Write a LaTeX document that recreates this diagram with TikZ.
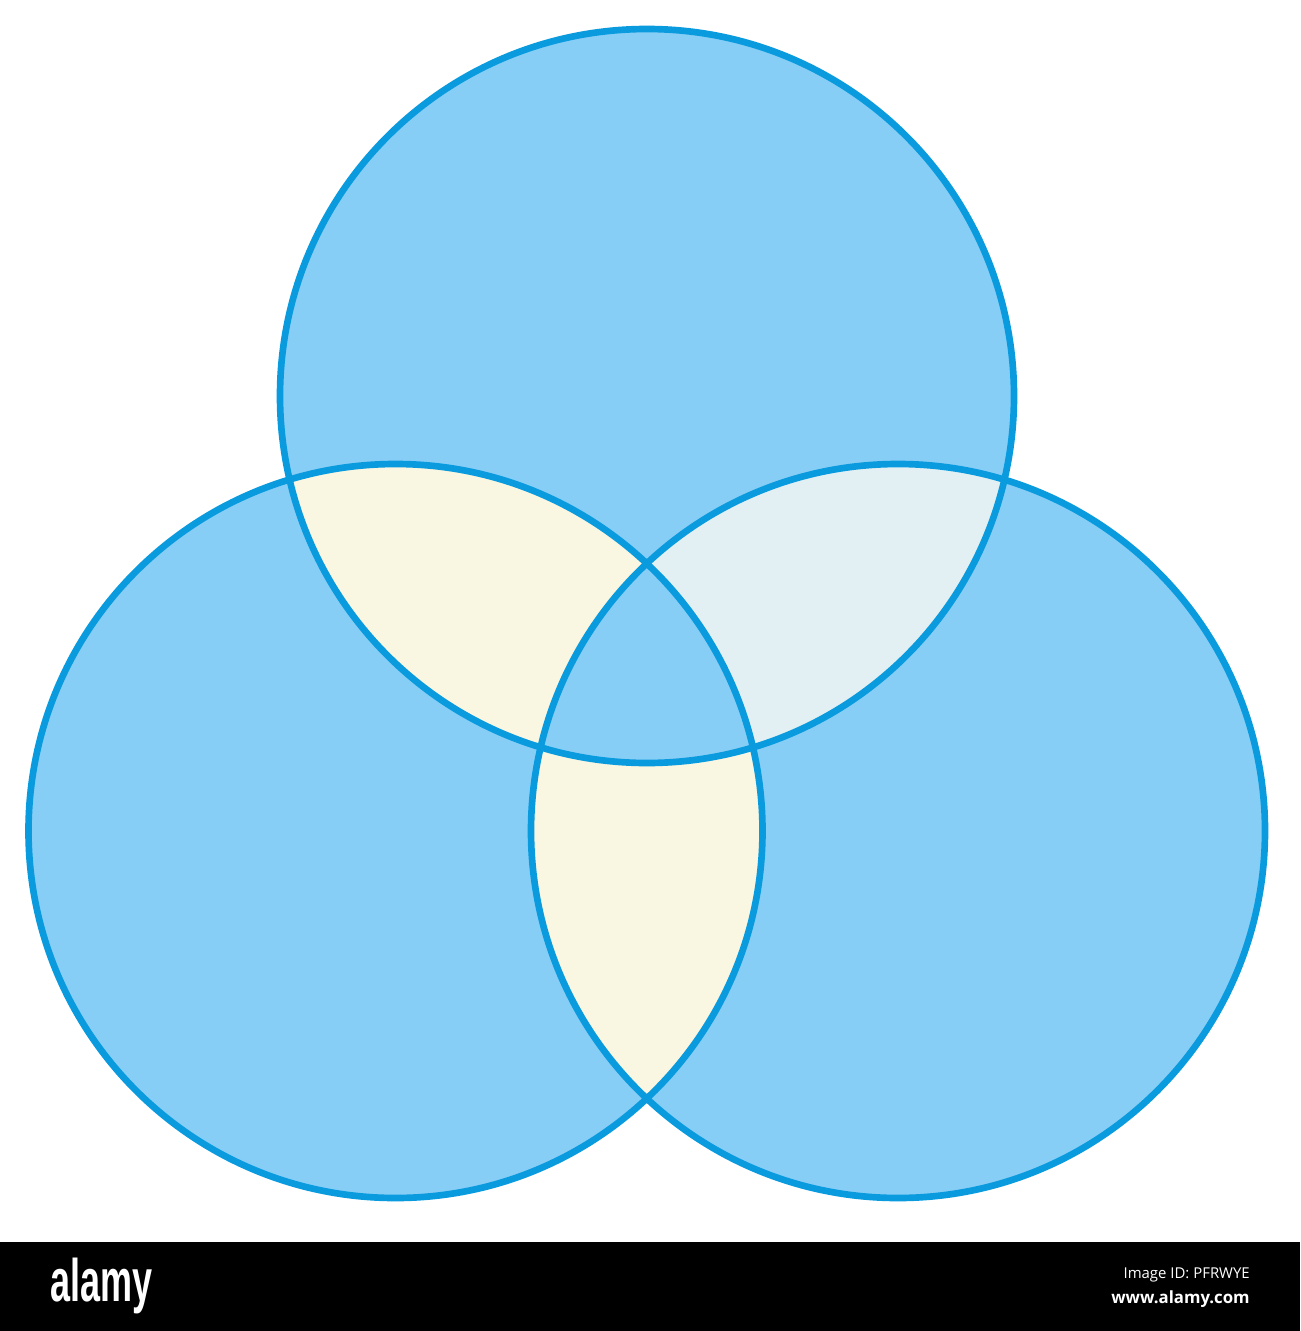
\documentclass[tikz,border=0pt]{standalone}
\usepackage{fontspec}
\setmainfont{Open Sans}
\newfontfamily\logofont{Liberation Sans}
\definecolor{vfill}{HTML}{87CEF7}
\definecolor{vline}{HTML}{0A9BDE}
\definecolor{vcream}{HTML}{F9F6E1}
\definecolor{vpale}{HTML}{E3F0F3}
\begin{document}
\begin{tikzpicture}[x=0.75pt,y=-0.75pt,
  ring/.style={draw=vline,line width=5pt},
  footer/.style={text=white,inner sep=0pt}]
\useasboundingbox (0,0) rectangle (1300,1331);
\fill[white] (0,0) rectangle (1300,1242);
\fill[black] (0,1242) rectangle (1300,1331);
% circle centres
\coordinate (cT) at (647,396);
\coordinate (cL) at (395.5,831);
\coordinate (cR) at (898,831);
\def\rad{367}
% base fills
\fill[vfill] (cT) circle[radius=\rad];
\fill[vfill] (cL) circle[radius=\rad];
\fill[vfill] (cR) circle[radius=\rad];
% pairwise overlaps
\begin{scope}
  \clip (cT) circle[radius=\rad];
  \fill[vcream] (cL) circle[radius=\rad];
\end{scope}
\begin{scope}
  \clip (cT) circle[radius=\rad];
  \fill[vpale] (cR) circle[radius=\rad];
\end{scope}
\begin{scope}
  \clip (cL) circle[radius=\rad];
  \fill[vcream] (cR) circle[radius=\rad];
\end{scope}
% triple overlap
\begin{scope}
  \clip (cT) circle[radius=\rad];
  \clip (cL) circle[radius=\rad];
  \fill[vfill] (cR) circle[radius=\rad];
\end{scope}
% outlines
\draw[ring] (cT) circle[radius=\rad];
\draw[ring] (cL) circle[radius=\rad];
\draw[ring] (cR) circle[radius=\rad];
% footer
\node[footer,anchor=base west] (logo) at (50,1301)
  {\logofont\bfseries\fontsize{45}{45}\selectfont\scalebox{0.6}[1]{alamy}};
\node[footer,anchor=base east] (imgid) at (1250,1278)
  {\fontsize{11.2}{11.2}\selectfont Image ID: PFRWYE};
\node[footer,anchor=base east] (url) at (1250,1303)
  {\bfseries\fontsize{12.6}{12.6}\selectfont www.alamy.com};
\end{tikzpicture}
\end{document}
